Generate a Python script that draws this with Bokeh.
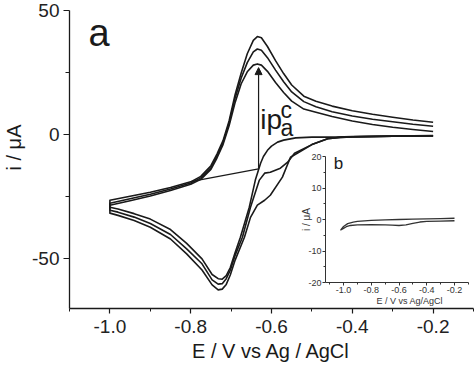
import math
from bokeh.plotting import figure
from bokeh.models import Range1d, FixedTicker, PrintfTickFormatter, Label, Arrow, NormalHead, Title
from bokeh.embed import file_html
from bokeh.resources import INLINE
from bokeh.core.templates import get_env

# ---------------- data ----------------
# forward (upper) branches, E from -1.0 to -0.2 V
E_up = [-1.0, -0.95, -0.9, -0.85, -0.8, -0.775, -0.75, -0.735, -0.72, -0.705, -0.69, -0.675,
        -0.66, -0.645, -0.635, -0.625, -0.61, -0.59, -0.57, -0.55, -0.52, -0.49, -0.45,
        -0.40, -0.35, -0.30, -0.25, -0.20]
i_up1 = [-26.4, -24.8, -23.2, -21.3, -19.0, -16.8, -12.5, -7.8, -2.4, 5.5, 16.2, 24.8,
         32.6, 38.0, 39.5, 39.0, 35.5, 29.8, 24.6, 20.0, 15.5, 13.5, 11.5, 9.6, 8.2, 7.0, 5.9, 5.0]
i_up2 = [-27.6, -25.8, -24.0, -21.9, -19.5, -17.4, -13.3, -8.6, -3.2, 4.6, 14.8, 22.8,
         29.0, 33.3, 34.5, 34.0, 31.0, 26.0, 21.3, 17.2, 13.3, 11.2, 9.2, 7.5, 6.2, 5.2, 4.2, 3.4]
i_up3 = [-28.4, -26.6, -24.7, -22.5, -20.0, -18.0, -14.0, -9.4, -4.0, 3.6, 13.0, 20.5,
         25.3, 28.0, 28.5, 28.0, 25.5, 21.0, 17.0, 13.5, 10.3, 9.0, 7.3, 5.5, 4.1, 3.0, 2.1, 1.3]

# reverse (lower) branches, E from -0.2 to -1.0 V
E_dn1 = [-0.20, -0.30, -0.40, -0.43, -0.461, -0.50, -0.53, -0.553, -0.573, -0.603, -0.617,
         -0.635, -0.652, -0.667, -0.69, -0.702, -0.712, -0.722, -0.732, -0.747, -0.772,
         -0.81, -0.85, -0.90, -0.94, -0.98, -1.0]
i_dn1 = [-0.5, -0.6, -0.9, -1.1, -1.6, -4.0, -6.9, -9.1, -17.1, -24.4, -26.4,
         -28.4, -33.3, -41.3, -50.5, -56.5, -60.3, -62.2, -62.5, -60.5, -54.5,
         -48.0, -42.0, -37.3, -34.6, -32.5, -31.6]
E_dn2 = [-0.20, -0.30, -0.40, -0.43, -0.461, -0.50, -0.543, -0.560, -0.578, -0.603, -0.617,
         -0.630, -0.652, -0.672, -0.69, -0.702, -0.712, -0.722, -0.732, -0.747, -0.772,
         -0.81, -0.85, -0.90, -0.94, -0.98, -1.0]
i_dn2 = [-0.5, -0.6, -0.9, -1.1, -1.6, -4.0, -7.5, -11.1, -13.5, -15.1, -15.5,
         -18.3, -29.2, -41.3, -48.6, -54.6, -58.0, -60.0, -60.2, -58.5, -52.0,
         -46.0, -40.2, -35.8, -33.2, -31.2, -30.4]
E_dn3 = [-0.20, -0.30, -0.40, -0.44, -0.50, -0.54, -0.57, -0.585, -0.60, -0.61, -0.62,
         -0.627, -0.64, -0.655, -0.677, -0.69, -0.702, -0.712, -0.722, -0.732, -0.747,
         -0.772, -0.81, -0.85, -0.90, -0.94, -0.98, -1.0]
i_dn3 = [-0.4, -0.6, -0.8, -1.0, -1.0, -1.3, -2.2, -3.0, -4.6, -6.3, -8.8,
         -11.5, -18.3, -29.2, -41.3, -47.5, -53.5, -56.8, -58.2, -58.0, -56.3,
         -50.0, -43.8, -38.2, -34.0, -31.8, -29.9, -29.2]

# baseline and peak-current arrow
baseline_E = [-0.80, -0.632]
baseline_i = [-18.9, -13.8]
ip_E = -0.632
ip_i = [-13.8, 27.0]

# inset (b): one blank CV
Eb_dn = [-0.2, -0.3, -0.4, -0.45, -0.5, -0.55, -0.6, -0.65, -0.7, -0.8, -0.9, -0.95, -0.98, -1.0, -1.02]
ib_dn = [-0.4, -0.5, -0.6, -0.8, -1.2, -1.7, -1.9, -1.8, -1.7, -1.6, -1.7, -1.9, -2.3, -2.8, -3.3]
Eb_up = [-1.02, -1.0, -0.97, -0.93, -0.9, -0.8, -0.7, -0.6, -0.5, -0.4, -0.3, -0.2]
ib_up = [-3.3, -2.2, -1.3, -0.8, -0.6, -0.3, -0.1, 0.0, 0.1, 0.2, 0.3, 0.4]

x_ticks = [-1.0, -0.8, -0.6, -0.4, -0.2]
x_minor = [-1.1, -0.9, -0.7, -0.5, -0.3, -0.1]
y_ticks = [-50, 0, 50]
y_minor = [-25, 25]
yb_ticks = [-20, -10, 0, 10, 20]
yb_minor = [-15, -5, 5, 15]

FONT = "Liberation Sans"
INK = "#1a1a1a"

# ---------------- main plot ----------------
p = figure(width=474, height=367, x_range=Range1d(-1.1, -0.1), y_range=Range1d(-70, 50),
           output_backend="svg", toolbar_location=None, name="main",
           min_border_left=68, min_border_right=1, min_border_top=10, min_border_bottom=59)
p.outline_line_color = None
p.grid.visible = False
p.background_fill_color = "white"
p.border_fill_color = "white"

for ax in (p.xaxis, p.yaxis):
    ax.axis_line_color = INK
    ax.axis_line_width = 1.3
    ax.major_tick_line_color = INK
    ax.minor_tick_line_color = INK
    ax.major_tick_line_width = 1.2
    ax.major_tick_in = 0
    ax.minor_tick_in = 0
    ax.major_label_text_font = FONT
    ax.major_label_text_font_size = "19px"
    ax.major_label_text_color = "#222222"

p.xaxis.ticker = FixedTicker(ticks=x_ticks, minor_ticks=x_minor)
p.xaxis.formatter = PrintfTickFormatter(format="%.1f")
p.xaxis.major_tick_out = 5
p.xaxis.minor_tick_out = 3
p.xaxis.major_label_standoff = 6
p.xaxis.axis_label = "E / V vs Ag / AgCl"
p.xaxis.axis_label_text_font = FONT
p.xaxis.axis_label_text_font_size = "20px"
p.xaxis.axis_label_text_font_style = "normal"
p.xaxis.axis_label_text_color = INK
p.xaxis.axis_label_standoff = 4

p.yaxis.ticker = FixedTicker(ticks=y_ticks, minor_ticks=y_minor)
p.yaxis.formatter = PrintfTickFormatter(format="%d")
p.yaxis.major_tick_out = 6
p.yaxis.minor_tick_out = 4
p.yaxis.major_label_standoff = 4

p.add_layout(Title(text="i / μA", align="left", offset=138, vertical_align="top", standoff=5,
                   text_font=FONT, text_font_size="20px", text_font_style="normal",
                   text_color=INK), "left")

for E_dn, i_dn, i_up in ((E_dn1, i_dn1, i_up1), (E_dn2, i_dn2, i_up2), (E_dn3, i_dn3, i_up3)):
    p.line(E_dn + E_up, i_dn + i_up, line_color=INK, line_width=1.6, line_join="round")

p.line(baseline_E, baseline_i, line_color=INK, line_width=1.2)
p.add_layout(Arrow(end=NormalHead(size=7, fill_color=INK, line_color=INK, line_width=1),
                   x_start=ip_E, y_start=ip_i[0], x_end=ip_E, y_end=ip_i[1],
                   line_color=INK, line_width=1.2))

def lab(fig, x, y, text, size, color=INK, align="left", baseline="alphabetic", angle=0.0):
    fig.add_layout(Label(x=x, y=y, text=text, text_font=FONT, text_font_size=size,
                         text_color=color, text_align=align, text_baseline=baseline,
                         angle=angle))

lab(p, -1.053, 40.8, "a", "38px")
lab(p, -0.628, 6.0, "ip", "28px")
lab(p, -0.578, 9.8, "c", "23px")
lab(p, -0.578, 2.8, "a", "23px")

# ---------------- inset ----------------
q = figure(width=179, height=164, x_range=Range1d(-1.13, -0.099), y_range=Range1d(-20, 20),
           output_backend="svg", toolbar_location=None, name="inset",
           min_border_left=30, min_border_right=6, min_border_top=10, min_border_bottom=28)
q.outline_line_color = None
q.grid.visible = False
q.background_fill_color = None
q.border_fill_color = None
for ax in (q.xaxis, q.yaxis):
    ax.axis_line_color = "#333333"
    ax.axis_line_width = 1
    ax.major_tick_line_color = "#333333"
    ax.minor_tick_line_color = "#333333"
    ax.major_tick_in = 0
    ax.minor_tick_in = 0
    ax.major_tick_out = 3
    ax.minor_tick_out = 2
    ax.major_label_standoff = 1
    ax.major_label_text_font = FONT
    ax.major_label_text_font_size = "9px"
    ax.major_label_text_color = "#333333"
q.xaxis.ticker = FixedTicker(ticks=x_ticks, minor_ticks=x_minor)
q.xaxis.formatter = PrintfTickFormatter(format="%.1f")
q.yaxis.ticker = FixedTicker(ticks=yb_ticks, minor_ticks=yb_minor)
q.yaxis.formatter = PrintfTickFormatter(format="%d")
q.yaxis.axis_label = "i / μA"
q.yaxis.axis_label_text_font = FONT
q.yaxis.axis_label_text_font_size = "10px"
q.yaxis.axis_label_text_font_style = "normal"
q.yaxis.axis_label_text_color = "#333333"
q.yaxis.axis_label_standoff = -7

q.add_layout(Title(text="E / V vs Ag/AgCl", align="left", offset=51, vertical_align="top",
                   standoff=0, text_font=FONT, text_font_size="9px", text_font_style="normal",
                   text_color="#333333"), "below")

q.line(Eb_dn + Eb_up, ib_dn + ib_up, line_color="#333333", line_width=1.3, line_join="round")

lab(q, -1.07, 17.9, "b", "17px")

template = get_env().from_string("""{% extends base %}
{% from macros import embed %}
{% block contents %}
<div style="position:relative;width:474px;height:367px;">
  <div style="position:absolute;left:0px;top:0px;">{{ embed(roots.main) }}</div>
  <div style="position:absolute;left:295px;top:146px;">{{ embed(roots.inset) }}</div>
</div>
{% endblock %}
""")

open("out.html", "w").write(file_html([p, q], INLINE, title="CV", template=template))
